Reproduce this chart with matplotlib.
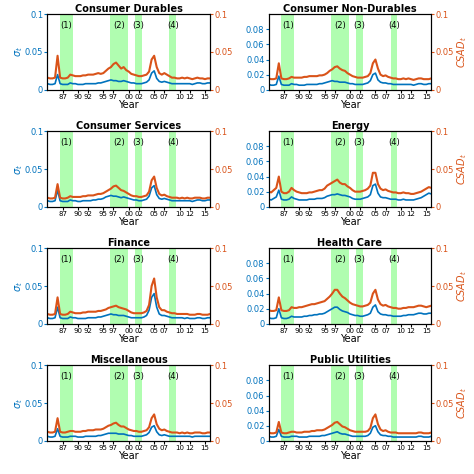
import matplotlib
matplotlib.use('Agg')
import matplotlib.pyplot as plt
import numpy as np

years = np.arange(1984, 2016.5, 0.5)  # half-year points, 65

titles = ['Consumer Durables', 'Consumer Non-Durables', 'Consumer Services', 'Energy',
          'Finance', 'Health Care', 'Miscellaneous', 'Public Utilities']

# CSAD_t, half-yearly levels
csad = {
 'Consumer Durables':     [0.016,0.015,0.015,0.016,0.045,0.016,0.015,0.015,0.016,0.020,0.019,0.018,0.018,0.018,0.019,0.019,0.020,0.020,0.020,0.021,0.022,0.021,0.022,0.025,0.028,0.030,0.034,0.036,0.032,0.028,0.030,0.026,0.024,0.021,0.020,0.019,0.018,0.018,0.019,0.020,0.024,0.040,0.045,0.030,0.022,0.020,0.022,0.020,0.018,0.016,0.016,0.015,0.015,0.016,0.015,0.016,0.015,0.014,0.015,0.016,0.015,0.015,0.014,0.015,0.015],
 'Consumer Non-Durables': [0.015,0.014,0.014,0.015,0.035,0.015,0.014,0.014,0.015,0.017,0.016,0.016,0.016,0.016,0.017,0.017,0.018,0.018,0.018,0.018,0.019,0.019,0.020,0.022,0.025,0.027,0.030,0.031,0.028,0.026,0.025,0.022,0.020,0.018,0.017,0.016,0.016,0.016,0.017,0.018,0.022,0.035,0.040,0.028,0.020,0.018,0.019,0.017,0.016,0.015,0.015,0.014,0.014,0.015,0.014,0.015,0.014,0.013,0.014,0.015,0.015,0.014,0.014,0.014,0.015],
 'Consumer Services':     [0.012,0.011,0.011,0.012,0.030,0.012,0.011,0.011,0.012,0.014,0.013,0.013,0.013,0.013,0.014,0.014,0.015,0.015,0.015,0.016,0.017,0.017,0.018,0.020,0.022,0.024,0.027,0.028,0.025,0.022,0.021,0.019,0.017,0.015,0.014,0.014,0.013,0.013,0.014,0.015,0.020,0.035,0.040,0.025,0.017,0.015,0.016,0.014,0.013,0.012,0.012,0.012,0.011,0.012,0.011,0.012,0.011,0.011,0.012,0.012,0.012,0.011,0.011,0.012,0.012],
 'Energy':                [0.020,0.019,0.022,0.025,0.040,0.020,0.018,0.018,0.020,0.025,0.022,0.020,0.019,0.018,0.018,0.018,0.019,0.019,0.020,0.021,0.022,0.022,0.024,0.028,0.030,0.032,0.034,0.036,0.032,0.030,0.030,0.027,0.025,0.022,0.020,0.020,0.020,0.021,0.022,0.024,0.028,0.045,0.045,0.030,0.024,0.022,0.023,0.021,0.020,0.019,0.019,0.018,0.018,0.019,0.018,0.018,0.017,0.017,0.018,0.019,0.020,0.022,0.024,0.026,0.025],
 'Finance':               [0.013,0.012,0.012,0.013,0.035,0.013,0.012,0.012,0.013,0.016,0.015,0.014,0.014,0.014,0.015,0.015,0.016,0.016,0.016,0.016,0.017,0.017,0.018,0.019,0.021,0.022,0.023,0.024,0.022,0.021,0.020,0.019,0.017,0.015,0.014,0.014,0.014,0.014,0.015,0.017,0.025,0.050,0.060,0.035,0.022,0.018,0.018,0.016,0.015,0.014,0.014,0.013,0.013,0.013,0.013,0.013,0.012,0.012,0.012,0.013,0.013,0.012,0.012,0.012,0.013],
 'Health Care':           [0.018,0.017,0.017,0.018,0.035,0.018,0.017,0.017,0.018,0.022,0.021,0.021,0.022,0.022,0.023,0.024,0.025,0.026,0.026,0.027,0.028,0.029,0.030,0.033,0.036,0.040,0.045,0.045,0.040,0.036,0.034,0.031,0.028,0.026,0.025,0.024,0.023,0.023,0.024,0.025,0.028,0.040,0.045,0.032,0.026,0.024,0.025,0.023,0.022,0.021,0.021,0.020,0.020,0.021,0.021,0.022,0.022,0.022,0.023,0.024,0.024,0.023,0.022,0.023,0.024],
 'Miscellaneous':         [0.012,0.011,0.011,0.012,0.030,0.012,0.011,0.011,0.012,0.013,0.013,0.012,0.012,0.012,0.013,0.013,0.014,0.014,0.014,0.015,0.015,0.015,0.016,0.018,0.020,0.021,0.023,0.024,0.021,0.019,0.019,0.017,0.015,0.014,0.013,0.013,0.012,0.012,0.013,0.014,0.018,0.030,0.035,0.022,0.016,0.014,0.015,0.013,0.012,0.011,0.011,0.011,0.010,0.011,0.010,0.011,0.010,0.010,0.011,0.011,0.011,0.010,0.010,0.011,0.011],
 'Public Utilities':      [0.011,0.010,0.010,0.011,0.025,0.011,0.010,0.010,0.011,0.012,0.012,0.011,0.011,0.011,0.012,0.012,0.012,0.013,0.013,0.014,0.014,0.014,0.015,0.017,0.019,0.021,0.024,0.025,0.022,0.019,0.018,0.016,0.014,0.013,0.012,0.012,0.012,0.012,0.012,0.013,0.017,0.030,0.035,0.022,0.015,0.013,0.014,0.012,0.011,0.011,0.011,0.010,0.010,0.010,0.010,0.010,0.010,0.010,0.010,0.011,0.011,0.010,0.010,0.010,0.011],
}
# sigma_t, half-yearly levels
sigma = {
 'Consumer Durables':     [0.008,0.007,0.007,0.008,0.020,0.008,0.007,0.007,0.007,0.009,0.008,0.008,0.007,0.007,0.007,0.008,0.008,0.008,0.008,0.008,0.009,0.009,0.010,0.011,0.012,0.013,0.012,0.012,0.011,0.011,0.012,0.011,0.010,0.009,0.009,0.008,0.008,0.008,0.009,0.010,0.013,0.022,0.025,0.015,0.011,0.010,0.011,0.010,0.009,0.008,0.008,0.008,0.008,0.008,0.008,0.008,0.008,0.007,0.008,0.009,0.009,0.008,0.008,0.009,0.009],
 'Consumer Non-Durables': [0.007,0.006,0.006,0.007,0.018,0.007,0.006,0.006,0.006,0.008,0.007,0.007,0.006,0.006,0.006,0.007,0.007,0.007,0.007,0.007,0.008,0.008,0.009,0.010,0.011,0.012,0.011,0.011,0.010,0.010,0.010,0.009,0.008,0.008,0.007,0.007,0.007,0.007,0.008,0.009,0.012,0.020,0.022,0.013,0.010,0.009,0.009,0.008,0.008,0.007,0.007,0.007,0.007,0.007,0.007,0.007,0.007,0.006,0.007,0.008,0.008,0.007,0.007,0.008,0.008],
 'Consumer Services':     [0.008,0.007,0.007,0.008,0.022,0.008,0.007,0.007,0.007,0.009,0.008,0.008,0.007,0.007,0.008,0.008,0.008,0.008,0.009,0.009,0.010,0.010,0.011,0.013,0.014,0.015,0.014,0.014,0.013,0.012,0.013,0.012,0.011,0.010,0.009,0.009,0.008,0.008,0.009,0.010,0.014,0.025,0.028,0.016,0.011,0.010,0.011,0.010,0.009,0.008,0.008,0.008,0.008,0.008,0.008,0.008,0.008,0.007,0.008,0.009,0.009,0.008,0.008,0.009,0.009],
 'Energy':                [0.010,0.009,0.011,0.013,0.022,0.010,0.009,0.009,0.010,0.013,0.011,0.010,0.009,0.009,0.009,0.009,0.010,0.010,0.010,0.011,0.011,0.011,0.012,0.014,0.015,0.016,0.016,0.017,0.016,0.015,0.015,0.014,0.013,0.011,0.010,0.010,0.010,0.011,0.012,0.013,0.016,0.028,0.030,0.018,0.013,0.012,0.012,0.011,0.010,0.010,0.010,0.009,0.009,0.010,0.009,0.009,0.009,0.009,0.010,0.011,0.012,0.014,0.016,0.018,0.017],
 'Finance':               [0.008,0.007,0.007,0.008,0.022,0.008,0.007,0.007,0.007,0.009,0.008,0.008,0.007,0.007,0.007,0.007,0.008,0.008,0.008,0.008,0.009,0.009,0.010,0.011,0.012,0.013,0.012,0.012,0.011,0.011,0.011,0.010,0.009,0.008,0.008,0.008,0.008,0.008,0.009,0.011,0.018,0.035,0.040,0.022,0.013,0.011,0.011,0.010,0.009,0.008,0.008,0.008,0.008,0.008,0.007,0.008,0.007,0.007,0.007,0.008,0.008,0.007,0.007,0.008,0.008],
 'Health Care':           [0.008,0.007,0.007,0.008,0.020,0.008,0.007,0.007,0.008,0.010,0.009,0.009,0.009,0.009,0.010,0.010,0.011,0.011,0.012,0.012,0.013,0.013,0.014,0.016,0.018,0.020,0.022,0.022,0.019,0.017,0.016,0.015,0.013,0.012,0.011,0.011,0.010,0.010,0.011,0.012,0.014,0.022,0.025,0.016,0.013,0.012,0.012,0.011,0.011,0.010,0.010,0.010,0.010,0.011,0.011,0.012,0.012,0.012,0.013,0.014,0.014,0.013,0.013,0.014,0.014],
 'Miscellaneous':         [0.006,0.005,0.005,0.006,0.016,0.006,0.005,0.005,0.005,0.006,0.006,0.006,0.005,0.005,0.005,0.006,0.006,0.006,0.006,0.006,0.007,0.007,0.008,0.009,0.010,0.010,0.010,0.010,0.009,0.009,0.009,0.008,0.007,0.007,0.006,0.006,0.006,0.006,0.007,0.008,0.011,0.018,0.020,0.012,0.008,0.007,0.008,0.007,0.006,0.006,0.006,0.006,0.006,0.006,0.006,0.006,0.006,0.005,0.006,0.006,0.006,0.006,0.006,0.006,0.006],
 'Public Utilities':      [0.006,0.005,0.005,0.006,0.015,0.006,0.005,0.005,0.005,0.006,0.006,0.006,0.005,0.005,0.005,0.005,0.006,0.006,0.006,0.006,0.006,0.007,0.007,0.008,0.009,0.010,0.011,0.012,0.010,0.009,0.009,0.008,0.007,0.006,0.006,0.006,0.006,0.006,0.006,0.007,0.010,0.018,0.020,0.012,0.008,0.007,0.007,0.006,0.006,0.005,0.005,0.005,0.005,0.005,0.005,0.005,0.005,0.005,0.005,0.006,0.006,0.005,0.005,0.005,0.006],
}

regions = [(1986.5, 1989.0, '(1)'), (1996.3, 1999.8, '(2)'), (2001.2, 2002.6, '(3)'), (2008.0, 2009.3, '(4)')]
tick_years = [1987, 1990, 1992, 1995, 1997, 2000, 2002, 2005, 2007, 2010, 2012, 2015]
tick_labels = ['87', '90', '92', '95', '97', '00', '02', '05', '07', '10', '12', '15']

blue = '#0072BD'
orange = '#D95319'
green = '#7CFC7C'

fig, axes = plt.subplots(4, 2, figsize=(4.74, 4.74), dpi=100)
for i, name in enumerate(titles):
    ax = axes[i // 2][i % 2]
    for a, b, lab in regions:
        ax.axvspan(a, b, color=green, alpha=0.6, lw=0)
        ax.text((a + b) / 2, 0.085, lab, ha='center', va='center', fontsize=6)
    ax.plot(years, sigma[name], color=blue, lw=1.2)
    ax.set_xlim(1984, 2016)
    ax.set_ylim(0, 0.1)
    if i % 2 == 0:
        ax.set_yticks([0, 0.05, 0.1])
        ax.set_yticklabels(['0', '0.05', '0.1'])
        ax.set_ylabel(r'$\sigma_t$', color=blue, fontsize=7, labelpad=0)
    else:
        ax.set_yticks([0, 0.02, 0.04, 0.06, 0.08])
        ax.set_yticklabels(['0', '0.02', '0.04', '0.06', '0.08'])
    ax.tick_params(axis='y', colors=blue, labelsize=6, length=2, pad=1)
    ax.set_xticks(tick_years)
    ax.set_xticklabels(tick_labels)
    ax.tick_params(axis='x', labelsize=5, length=2, pad=1)
    ax.set_xlabel('Year', fontsize=7, labelpad=0)
    ax.set_title(name, fontsize=7, fontweight='bold', pad=1)
    ax2 = ax.twinx()
    ax2.plot(years, csad[name], color=orange, lw=1.5)
    ax2.set_ylim(0, 0.1)
    ax2.set_yticks([0, 0.05, 0.1])
    ax2.set_yticklabels(['0', '0.05', '0.1'])
    ax2.tick_params(axis='y', colors=orange, labelsize=6, length=2, pad=1)
    if i % 2 == 1:
        ax2.set_ylabel(r'$CSAD_t$', color=orange, fontsize=7, labelpad=1)

plt.subplots_adjust(left=0.1, right=0.91, top=0.97, bottom=0.07, wspace=0.36, hspace=0.55)
plt.savefig('out.png', dpi=100)
